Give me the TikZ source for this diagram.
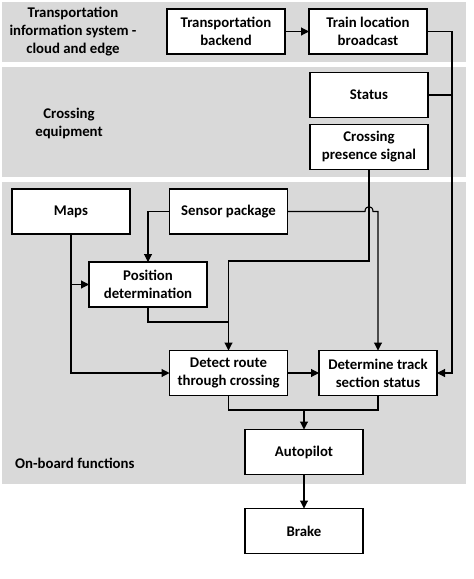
\documentclass[tikz,border=0pt]{standalone}
\usepackage{fontspec}
\setmainfont{Carlito}
\usetikzlibrary{arrows.meta}
\definecolor{band}{RGB}{217,217,217}
\begin{document}
\begin{tikzpicture}[x=1pt,y=-1pt,
  box/.style={draw, fill=white, line width=1.4pt, minimum width=118pt, minimum height=45pt,
    inner sep=0pt, outer sep=0pt, align=center, font=\fontsize{14.8}{18}\selectfont\bfseries},
  lbl/.style={align=center, inner sep=0pt, font=\fontsize{14.8}{18}\selectfont\bfseries},
  con/.style={line width=1.1pt},
  arr/.style={con, -{Triangle[length=8pt,width=8pt]}}]
\useasboundingbox (0,0) rectangle (474,579);
\fill[white] (0,0) rectangle (474,579);
% bands
\fill[band] (2,2) rectangle (466,62);
\fill[band] (2,67) rectangle (466,177);
\fill[band] (2,182) rectangle (466,484);
% band labels
\node[lbl] (l1) at (73,32) {Transportation\\information system -\\cloud and edge};
\node[lbl] (l2) at (69,123) {Crossing\\equipment};
\node[lbl, anchor=west] (l3) at (15,463) {On-board functions};
% boxes
\node[box] (tb)  at (226,31.5) {Transportation\\backend};
\node[box] (tlb) at (368,31.5) {Train location\\broadcast};
\node[box] (st)  at (369,95) {Status};
\node[box] (cps) at (369,147) {Crossing\\presence signal};
\node[box] (maps) at (71,211.5) {Maps};
\node[box] (sp)  at (228.5,211.5) {Sensor package};
\node[box] (pd)  at (148,284.5) {Position\\determination};
\node[box] (dr)  at (228.5,373) {Detect route\\through crossing};
\node[box] (dt)  at (378,373) {Determine track\\section status};
\node[box] (ap)  at (304,452) {Autopilot};
\node[box] (br)  at (304,531) {Brake};
% helper coordinates
\coordinate (rx) at (452,0);
\coordinate (yc) at (0,261);
\coordinate (yp) at (0,322);
\coordinate (ym) at (0,410);
\coordinate (hopA) at (365,211.5);
\coordinate (hopB) at (373,211.5);
% connectors
\draw[arr] (tb) -- (tlb);
\draw[arr] (tlb.east) -- (tlb.east -| rx) |- (dt.east);
\draw[con] (st.east) -- (st.east -| rx);
\draw[arr] (cps.south) -- (cps.south |- yc) -| (dr.north);
\draw[arr] (sp.east) -- (hopA) .. controls (365,205) and (373,205) .. (hopB) -| (dt.north);
\draw[arr] (sp.west) -| (pd.north);
\draw[arr] (maps.south) |- (dr.west);
\draw[arr] (maps.south |- pd.west) -- (pd.west);
\draw[con] (pd.south) |- (dr.north |- yp);
\draw[arr] (dr) -- (dt);
\draw[con] (dr.south) |- (dr.south |- ym) -| (dt.south);
\draw[arr] (ap.north |- ym) -- (ap.north);
\draw[arr] (ap) -- (br);
\end{tikzpicture}
\end{document}
